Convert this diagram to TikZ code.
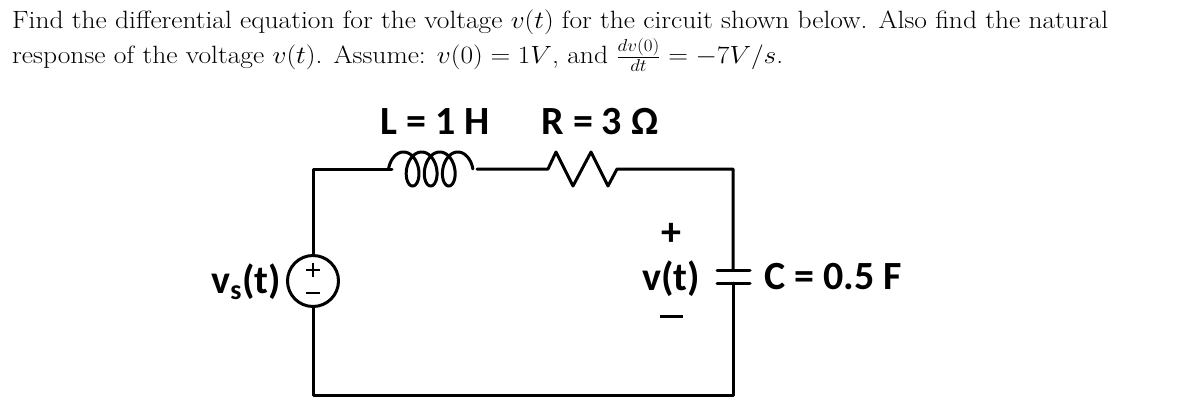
\documentclass[tikz,border=0pt]{standalone}
\usepackage{fontspec}
\newfontfamily\carlitofont{Carlito}
\tikzset{wire/.style={line width=3pt,line cap=round,line join=round},
lbl/.style={font=\carlitofont\bfseries\fontsize{40}{44}\selectfont,inner sep=0pt}}
\begin{document}
\begin{tikzpicture}[x=1pt,y=-1pt]
\useasboundingbox (0,0) rectangle (1179,416);
\node[anchor=base west,inner sep=0pt] (t1) at (12,28) {\resizebox{1096pt}{\height}{\fontsize{25}{30}\selectfont Find the differential equation for the voltage $v(t)$ for the circuit shown below. Also find the natural}};
\node[anchor=base west,inner sep=0pt] (t2) at (12,63) {\resizebox{771pt}{\height}{\fontsize{25}{30}\selectfont response of the voltage $v(t)$. Assume: $v(0)=1V$, and $\frac{dv(0)}{dt}=-7V/s$.}};
% corners
\coordinate (tl) at (313,169); \coordinate (tr) at (733,169);
\coordinate (bl) at (313,395); \coordinate (br) at (733,395);
\coordinate (ls) at (392,169); \coordinate (le) at (477,169);
\coordinate (rs) at (548,169); \coordinate (re) at (617,169);
\coordinate (ct) at (733,270); \coordinate (cb) at (733,283);
\node[circle,draw,line width=3pt,minimum size=51pt,inner sep=0pt] (src) at (313,281) {};
\draw[line width=2.5pt] (306,270) -- (320,270) (313,263) -- (313,277);
\draw[line width=2.5pt] (306,293) -- (320,293);
\draw[wire] (src.north) -- (tl) -- (ls);
\draw[wire] plot[variable=\t,domain=90:1350,samples=300,smooth] ({394.5+2.88*\t*pi/180-10.5*sin(\t)},{169+17*cos(\t)});
\draw[wire] (le) -- (rs) -- (556,152) -- (573,186) -- (591,152) -- (608,186) -- (re) -- (tr) -- (ct);
\draw[wire] (717,270) -- (750,270);
\draw[wire] (717,283) -- (750,283);
\draw[wire] (cb) -- (br) -- (bl) -- (src.south);
\node[lbl] (lL) at (435,122) {L = 1 H};
\node[lbl] (lR) at (600,122) {R = 3 Ω};
\node[lbl] (pl) at (671,234) {+};
\node[lbl] (vt) at (671,279) {v(t)};
\draw[line width=3pt] (660,316) -- (683,316);
\node[lbl,anchor=west] (lC) at (764,277) {C = 0.5 F};
\node[lbl,anchor=east] (vs) at (281,282) {v\textsubscript{s}(t)};
\end{tikzpicture}
\end{document}
